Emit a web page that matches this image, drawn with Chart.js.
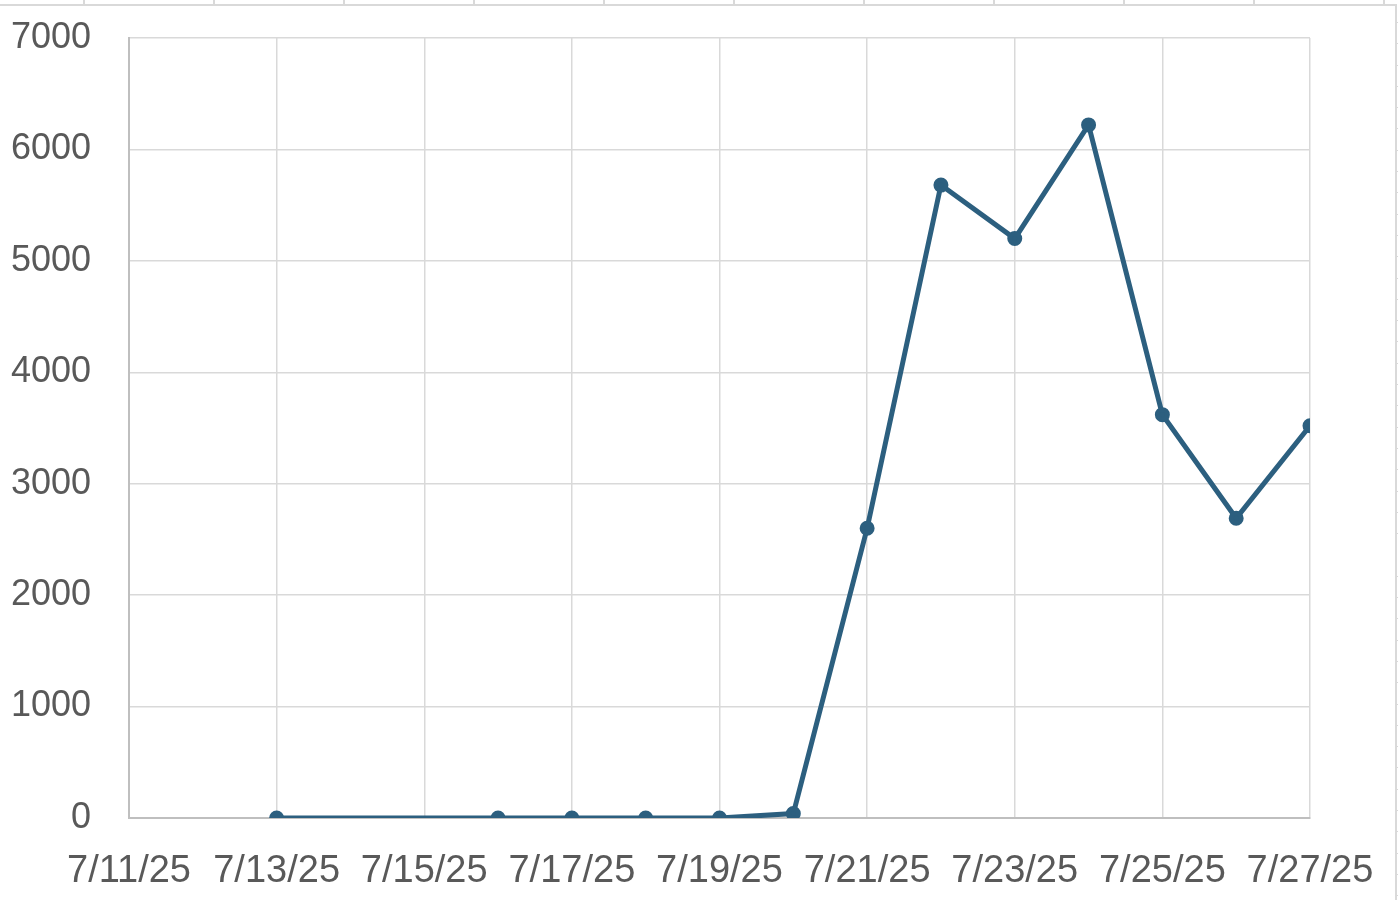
<!DOCTYPE html>
<html>
<head>
<meta charset="utf-8">
<script src="https://cdn.jsdelivr.net/npm/chart.js@4/dist/chart.umd.min.js"></script>
<style>
  html, body { margin: 0; padding: 0; background: #fff; }
  #wrap { position: relative; width: 1398px; height: 900px; overflow: hidden; }
  /* spreadsheet cell borders peeking out behind the chart */
  .sheet-top { position: absolute; left: 0; top: 0; width: 1397px; height: 4px;
    border-bottom: 2px solid #d9d9d9;
    background: repeating-linear-gradient(to right, transparent 0, transparent 82px, #d9d9d9 82px, #d9d9d9 84px, transparent 84px, transparent 130px);
    background-position: 1px 0; }
  .sheet-right { position: absolute; left: 1395px; top: 4px; width: 3px; height: 896px;
    border-left: 2px solid #d9d9d9;
    background: repeating-linear-gradient(to bottom, transparent 0, transparent 18px, #d9d9d9 18px, #d9d9d9 19px, transparent 19px, transparent 21.3px); }
  canvas { position: absolute; left: 0; top: 0; }
</style>
</head>
<body>
<div id="wrap">
  <div class="sheet-top"></div>
  <div class="sheet-right"></div>
  <canvas id="lineChart" width="1398" height="900"></canvas>
</div>
<script>
// Data
const dates = ['7/13/25', '7/16/25', '7/17/25', '7/18/25', '7/19/25', '7/20/25', '7/21/25',
               '7/22/25', '7/23/25', '7/24/25', '7/25/25', '7/26/25', '7/27/25'];
const counts = [0, 0, 0, 0, 0, 40, 2600, 5680, 5200, 6220, 3620, 2690, 3520];
const tickDates = ['7/11/25', '7/13/25', '7/15/25', '7/17/25', '7/19/25',
                   '7/21/25', '7/23/25', '7/25/25', '7/27/25'];
const yTicks = [0, 1000, 2000, 3000, 4000, 5000, 6000, 7000];

// day-of-month from 'm/d/yy'
function dayOf(s) { return parseInt(s.split('/')[1], 10); }

const labelColor = '#595959';
const gridColor = '#d9d9d9';
const axisColor = '#bfbfbf';
const lineColor = '#2c5f7f';

document.addEventListener('DOMContentLoaded', function () {
    const canvas = document.getElementById('lineChart');

    new Chart(canvas, {
        type: 'line',
        data: {
            datasets: [{
                data: dates.map((d, i) => ({ x: dayOf(d), y: counts[i] })),
                borderColor: lineColor,
                backgroundColor: lineColor,
                borderWidth: 5,
                pointRadius: 5,
                pointHoverRadius: 5,
                tension: 0,
                fill: false
            }]
        },
        options: {
            responsive: false,
            animation: false,
            layout: { padding: { top: 38, right: 88, left: 0, bottom: 0 } },
            plugins: {
                legend: { display: false },
                tooltip: { enabled: false }
            },
            scales: {
                x: {
                    type: 'linear',
                    min: dayOf(tickDates[0]),
                    max: dayOf(tickDates[tickDates.length - 1]),
                    afterBuildTicks: function (scale) {
                        scale.ticks = tickDates.map(d => ({ value: dayOf(d) }));
                    },
                    afterFit: function (scale) {
                        scale.height = 82;
                        scale.paddingLeft = 0;
                        scale.paddingRight = 0;
                    },
                    ticks: {
                        autoSkip: false,
                        maxRotation: 0,
                        padding: 31,
                        color: labelColor,
                        font: { family: 'Liberation Sans', size: 38 },
                        callback: function (v) { return '7/' + v + '/25'; }
                    },
                    grid: { color: gridColor, lineWidth: 1.5, drawTicks: false },
                    border: { color: axisColor, width: 2 }
                },
                y: {
                    min: 0,
                    max: 7000,
                    afterBuildTicks: function (scale) {
                        scale.ticks = yTicks.map(v => ({ value: v }));
                    },
                    afterFit: function (scale) {
                        scale.width = 129;
                        scale.paddingTop = 0;
                        scale.paddingBottom = 0;
                    },
                    ticks: {
                        padding: 38,
                        color: labelColor,
                        font: { family: 'Liberation Sans', size: 36 },
                        callback: function (v) { return String(v); }
                    },
                    grid: { color: gridColor, lineWidth: 1.5, drawTicks: false },
                    border: { color: axisColor, width: 2 }
                }
            }
        }
    });
});
</script>
</body>
</html>
